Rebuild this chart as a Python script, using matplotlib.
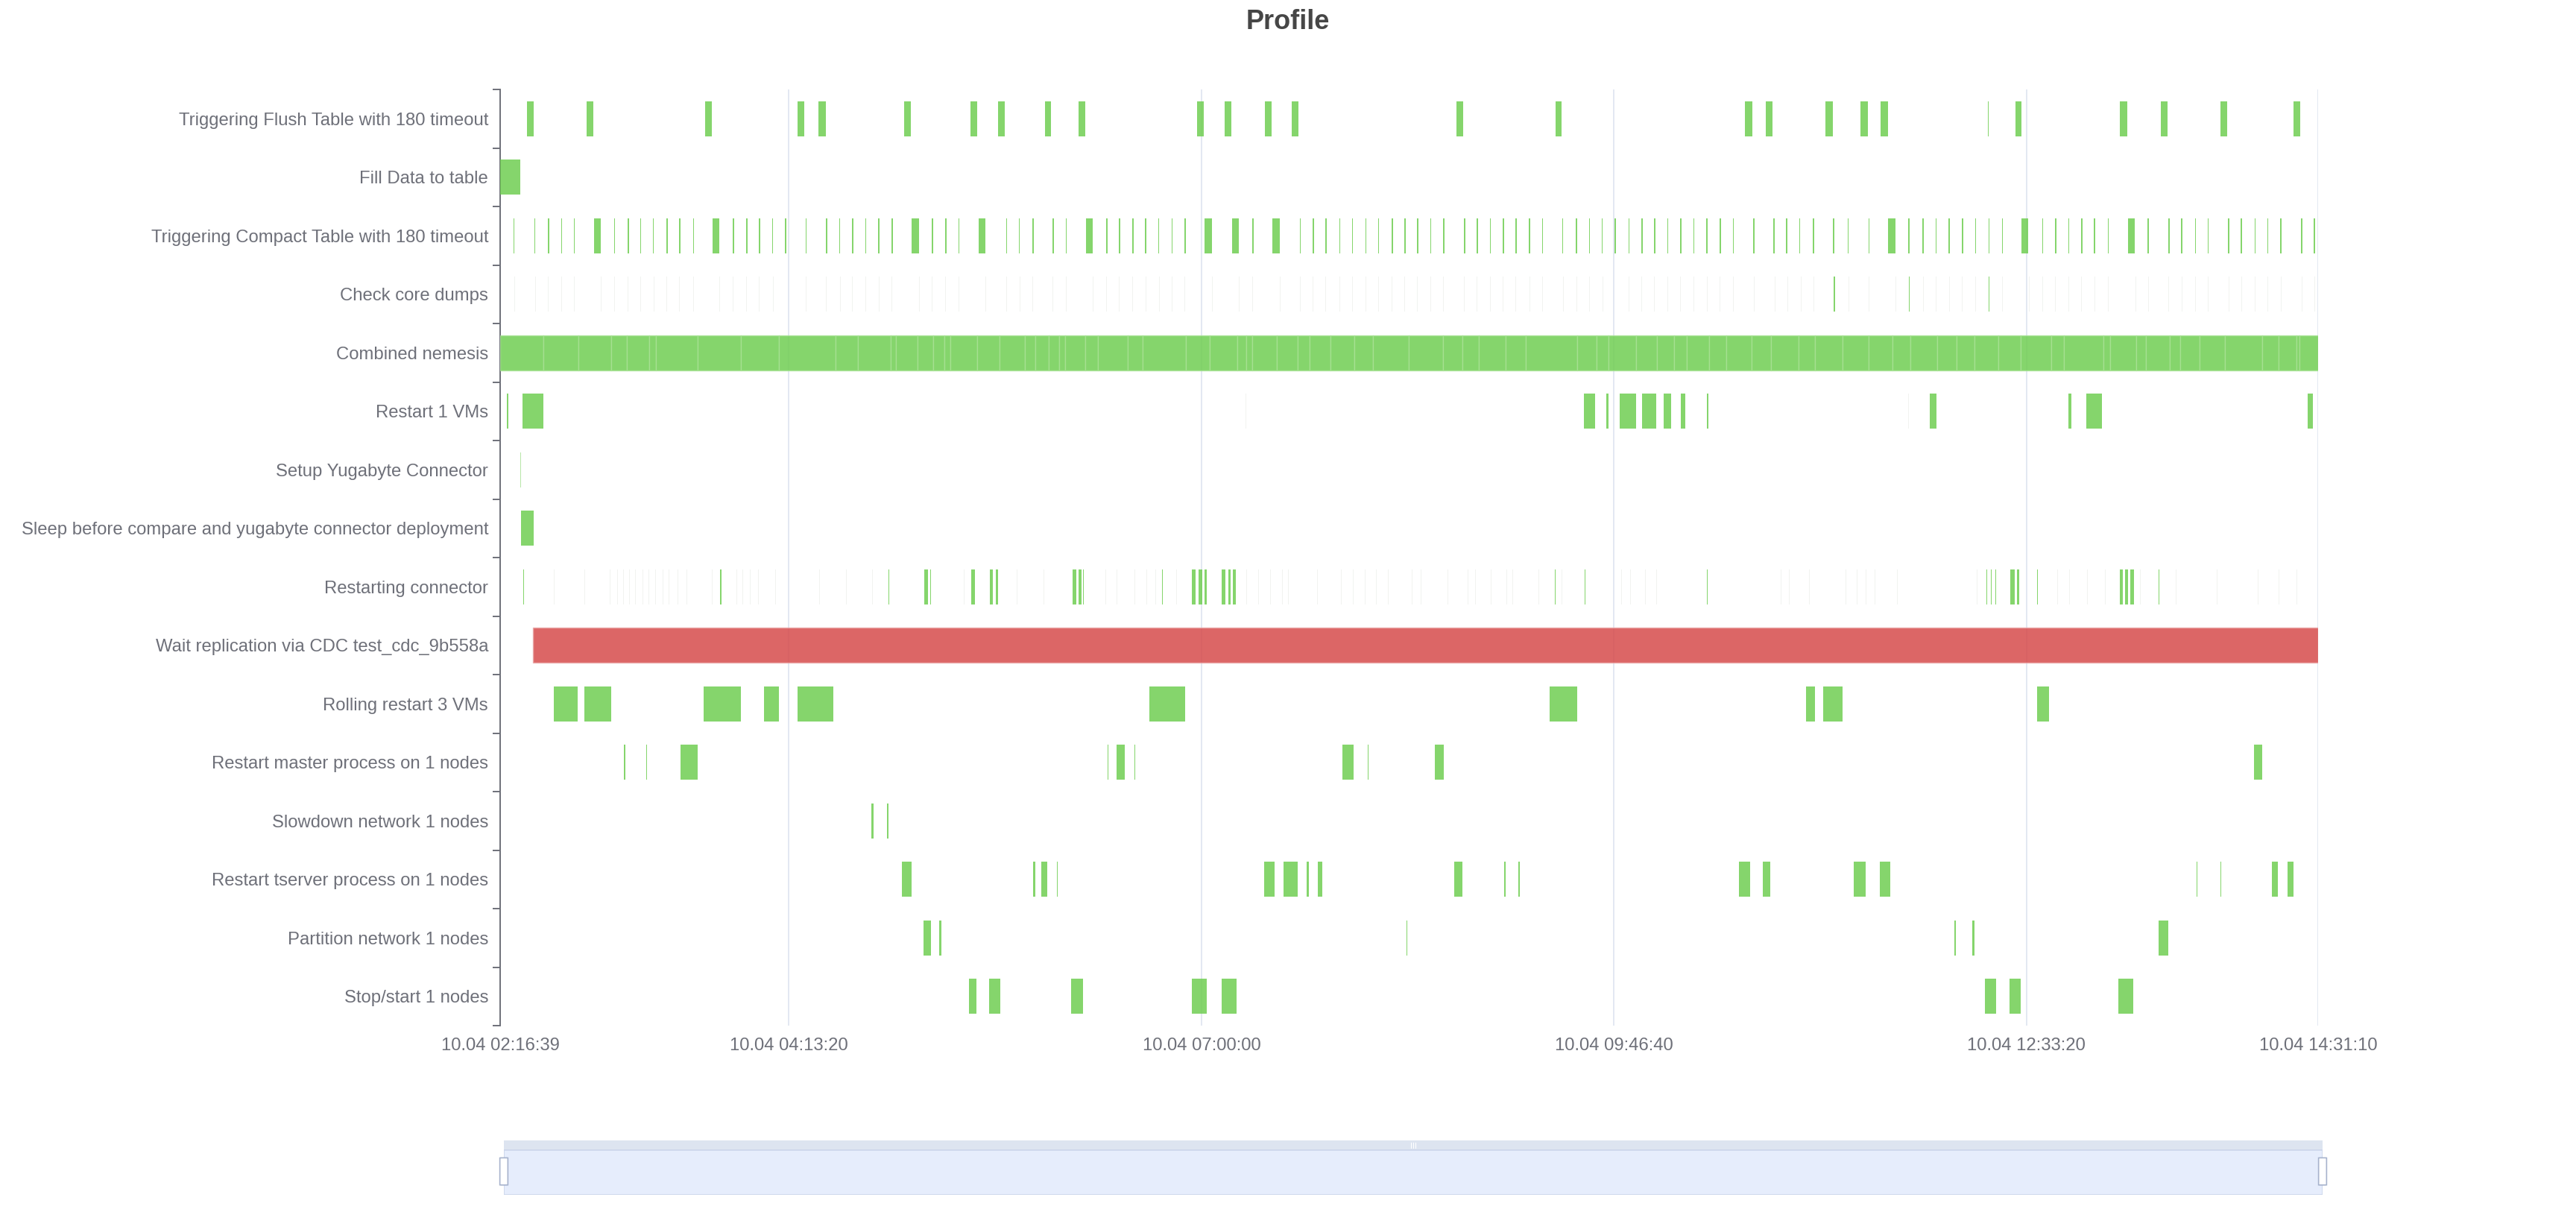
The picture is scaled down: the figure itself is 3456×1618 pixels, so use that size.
import datetime as dt
import matplotlib
matplotlib.use("Agg")
import matplotlib.pyplot as plt
import matplotlib.dates as mdates
from matplotlib.patches import Rectangle, FancyBboxPatch

plt.rcParams["font.family"] = ["Liberation Sans", "DejaVu Sans"]

# time range of the profile
t_start = dt.datetime(2024, 10, 4, 2, 16, 39)
t_end = dt.datetime(2024, 10, 4, 14, 31, 10)
tick_times = ["02:16:39", "04:13:20", "07:00:00", "09:46:40", "12:33:20", "14:31:10"]

categories = [
    "Triggering Flush Table with 180 timeout",
    "Fill Data to table",
    "Triggering Compact Table with 180 timeout",
    "Check core dumps",
    "Combined nemesis",
    "Restart 1 VMs",
    "Setup Yugabyte Connector",
    "Sleep before compare and yugabyte connector deployment",
    "Restarting connector",
    "Wait replication via CDC test_cdc_9b558a",
    "Rolling restart 3 VMs",
    "Restart master process on 1 nodes",
    "Slowdown network 1 nodes",
    "Restart tserver process on 1 nodes",
    "Partition network 1 nodes",
    "Stop/start 1 nodes",
]

# (start, duration) in minutes after 02:16:39
flush_table = [(10.7, 2.9), (35.0, 2.7), (82.9, 2.6), (120.3, 2.6), (128.6, 2.9), (163.2, 2.8),
               (190.1, 2.6), (201.3, 2.6), (220.1, 2.6), (233.7, 2.6), (281.6, 2.8), (292.8, 2.6),
               (309.0, 2.8), (319.9, 2.7), (386.3, 2.8), (426.3, 2.6), (503.0, 2.8), (511.5, 2.7),
               (535.6, 2.9), (549.7, 2.8), (557.8, 2.8), (601.1, 0.3), (612.1, 2.6), (654.5, 2.8),
               (670.9, 2.9), (695.2, 2.6), (724.5, 2.9)]

fill_data = [(0.0, 8.1)]

compact_long = [(37.9, 2.9), (85.8, 2.8), (166.3, 2.8), (193.2, 2.9), (236.6, 2.8), (284.7, 2.8),
                (295.6, 2.9), (312.1, 2.8), (560.9, 2.8), (614.7, 2.8), (657.6, 2.8)]
compact_short = [5.3, 13.8, 19.3, 24.6, 29.8, 46.0, 51.5, 56.5, 61.7, 67.2, 72.4, 77.9, 94.1, 99.4,
                 104.6, 109.8, 115.1, 123.4, 131.7, 137.0, 142.2, 147.5, 152.7, 158.2, 174.4, 179.9,
                 185.1, 204.4, 209.6, 215.1, 223.2, 228.5, 244.9, 250.1, 255.4, 260.6, 265.9, 271.3,
                 276.6, 303.9, 323.0, 328.3, 333.5, 339.0, 344.2, 349.5, 354.7, 360.2, 365.4, 370.5,
                 375.8, 381.0, 389.4, 394.6, 399.8, 405.1, 410.3, 415.6, 421.0, 429.1, 434.6, 439.9,
                 445.1, 450.3, 455.8, 461.1, 466.3, 471.5, 476.8, 482.0, 487.3, 492.7, 498.0, 506.3,
                 514.4, 519.6, 524.9, 530.4, 538.5, 544.4, 552.8, 569.0, 574.7, 579.9, 585.2, 590.6,
                 595.9, 601.4, 606.8, 623.0, 628.3, 633.5, 638.8, 644.0, 649.5, 665.7, 674.0, 679.2,
                 684.7, 689.9, 698.1, 703.3, 708.8, 714.0, 719.3, 727.6, 732.8]
compact_short_len = 0.45

core_dumps = [(538.9, 0.4), (569.2, 0.4), (601.4, 0.3)]
core_dumps_faint = [5.7, 14.1, 19.3, 24.6, 29.8, 40.8, 46.0, 51.5, 56.7, 62.0, 67.2, 72.4, 77.9, 88.6,
                    94.1, 99.4, 104.6, 110.1, 123.6, 131.7, 137.2, 142.2, 147.5, 152.9, 158.2, 169.1,
                    174.4, 179.9, 185.1, 196.1, 204.4, 209.9, 215.1, 223.2, 228.5, 239.4, 244.9, 250.1,
                    255.4, 260.9, 266.1, 271.3, 276.6, 287.5, 298.5, 303.9, 314.9, 323.0, 328.3, 333.5,
                    339.0, 344.2, 349.5, 354.9, 360.2, 365.4, 370.5, 375.8, 381.0, 389.4, 394.6, 399.8,
                    405.1, 410.3, 415.8, 421.0, 429.4, 434.9, 440.1, 445.3, 455.8, 461.1, 466.3, 471.5,
                    476.8, 482.0, 487.5, 492.7, 498.2, 506.5, 514.9, 520.1, 525.4, 530.6, 544.7, 552.8,
                    563.7, 574.9, 580.1, 585.4, 590.6, 595.9, 606.8, 617.8, 623.0, 628.3, 633.5, 638.8,
                    644.2, 649.5, 660.7, 665.9, 674.0, 679.5, 684.7, 689.9, 698.3, 703.5, 708.8, 714.0,
                    719.5, 727.8, 733.1]

nemesis_starts = [0.0, 17.6, 31.7, 45.0, 51.2, 60.3, 62.9, 79.8, 97.4, 112.7, 135.6, 144.6, 157.7,
                  159.9, 168.7, 174.9, 179.4, 182.0, 192.7, 201.8, 212.0, 216.3, 221.5, 225.8, 228.2,
                  236.3, 241.6, 253.5, 259.7, 277.1, 286.6, 297.8, 301.4, 304.0, 313.7, 322.3, 327.1,
                  335.4, 345.2, 352.6, 367.1, 381.0, 388.9, 395.3, 406.3, 414.4, 435.1, 443.0, 447.7,
                  459.1, 467.5, 474.2, 479.4, 488.4, 495.4, 505.6, 513.5, 524.7, 531.3, 542.3, 552.8,
                  562.5, 569.9, 580.6, 588.5, 595.6, 605.4, 614.5, 626.6, 631.8, 647.8, 650.6, 660.9,
                  664.9, 674.7, 678.8, 686.6, 696.9, 711.9, 718.5, 725.7, 726.9]
nemesis_end = 734.5

restart_vms = [(2.6, 0.8), (9.1, 8.5), (437.9, 4.6), (446.8, 0.9), (452.2, 6.9), (461.5, 5.5),
               (470.1, 3.1), (477.0, 1.9), (487.7, 0.4), (577.5, 2.9), (633.7, 1.2), (640.9, 6.2),
               (730.2, 2.2)]
restart_vms_faint = [301.1, 569.0]

setup_connector = [(8.1, 0.2)]

sleep_before_compare = [(8.4, 5.2)]

restarting_connector = [(9.3, 0.3), (88.9, 0.4), (156.8, 0.3), (171.3, 1.7), (173.7, 0.3), (190.3, 1.5),
                        (198.0, 1.2), (200.4, 0.9), (231.3, 1.4), (233.7, 1.2), (235.5, 0.3),
                        (267.3, 0.3), (279.4, 1.5), (282.1, 1.6), (284.7, 0.9), (291.6, 1.4),
                        (294.2, 0.9), (296.1, 1.0), (426.0, 0.3), (438.2, 0.2), (452.5, 0.2),
                        (487.7, 0.3), (600.6, 0.3), (602.3, 0.2), (604.2, 0.3), (610.2, 1.6),
                        (612.8, 0.9), (621.1, 0.3), (654.5, 1.2), (656.6, 1.0), (658.5, 1.5),
                        (670.2, 0.3)]
restarting_connector_faint = [21.7, 34.1, 44.3, 47.2, 49.6, 52.0, 54.6, 57.4, 59.8, 62.7, 65.8, 68.1,
                              71.7, 75.3, 85.5, 95.5, 97.9, 101.0, 104.3, 111.0, 128.9, 139.6, 150.3,
                              187.3, 208.7, 219.4, 244.4, 249.2, 256.3, 261.1, 264.7, 273.0, 301.6,
                              306.4, 311.2, 315.9, 318.3, 330.2, 339.7, 344.5, 349.2, 354.0, 358.8,
                              368.4, 372.0, 382.7, 391.0, 393.9, 400.1, 406.5, 408.9, 419.6, 428.7,
                              453.0, 456.5, 462.5, 467.2, 517.3, 520.8, 528.7, 543.5, 548.2, 551.8,
                              555.4, 564.4, 596.6, 629.2, 633.9, 641.1, 648.3, 662.6, 676.9, 693.5,
                              710.2, 718.5, 725.7]

wait_replication = [(13.4, 721.1)]

rolling_restart = [(21.7, 9.5), (34.1, 10.7), (82.2, 15.2), (106.7, 5.8), (120.1, 14.5), (262.3, 14.5),
                   (424.1, 11.0), (527.7, 3.4), (534.4, 8.1), (620.9, 5.0)]

restart_master = [(50.0, 0.5), (59.1, 0.3), (72.9, 6.9), (245.4, 0.2), (249.2, 3.3), (256.3, 0.3),
                  (340.4, 4.3), (350.4, 0.5), (377.7, 3.6), (708.5, 3.4)]

slowdown_network = [(150.1, 0.7), (156.3, 0.7)]

restart_tserver = [(162.2, 3.9), (215.4, 0.7), (218.7, 2.4), (224.9, 0.3), (308.7, 4.1), (316.4, 5.9),
                   (325.7, 1.1), (330.4, 1.9), (385.5, 3.4), (405.8, 0.4), (411.5, 0.4), (500.4, 4.5),
                   (510.1, 3.1), (546.8, 4.8), (557.3, 4.3), (685.4, 0.3), (695.2, 0.3), (715.7, 2.6),
                   (722.1, 2.6)]

partition_network = [(171.0, 3.1), (177.5, 0.9), (366.1, 0.3), (587.5, 0.8), (594.7, 0.9), (670.2, 3.8)]

stop_start = [(189.4, 3.1), (197.5, 4.5), (230.6, 5.0), (279.4, 6.2), (291.6, 5.9), (599.9, 4.5),
              (609.9, 4.6), (653.8, 5.9)]

faint_len = 0.3

GREEN = "#70ce52"
RED = "#d64b4b"
FAINT = "#f1f3f0"

fig = plt.figure(figsize=(34.56, 16.18), dpi=100)
ax = fig.add_axes([671 / 3456, 1 - 1376 / 1618, (3110 - 671) / 3456, (1376 - 120) / 1618])

t0 = mdates.date2num(t_start)


def draw(row, spans, color, alpha=0.85, edge="none", lw=0):
    lefts = [t0 + s / 1440 for s, d in spans]
    widths = [d / 1440 for s, d in spans]
    ax.barh([row] * len(spans), widths, left=lefts, height=0.6, color=color, alpha=alpha,
            edgecolor=edge, linewidth=lw, zorder=3)


draw(0, flush_table, GREEN)
draw(1, fill_data, GREEN)
draw(2, compact_long, GREEN)
draw(2, [(s, compact_short_len) for s in compact_short], GREEN)
draw(3, [(s, faint_len) for s in core_dumps_faint], FAINT, alpha=1)
draw(3, core_dumps, GREEN)
nem = [(s, e - s) for s, e in zip(nemesis_starts, nemesis_starts[1:] + [nemesis_end])]
draw(4, nem, GREEN, edge="#a9e296", lw=1.0)
draw(5, [(s, faint_len) for s in restart_vms_faint], FAINT, alpha=1)
draw(5, restart_vms, GREEN)
draw(6, setup_connector, GREEN, alpha=0.5)
draw(7, sleep_before_compare, GREEN)
draw(8, [(s, faint_len) for s in restarting_connector_faint], FAINT, alpha=1)
draw(8, restarting_connector, GREEN)
draw(9, wait_replication, RED, edge="#eaa9a9", lw=1.0)
draw(10, rolling_restart, GREEN)
draw(11, restart_master, GREEN)
draw(12, slowdown_network, GREEN)
draw(13, restart_tserver, GREEN)
draw(14, partition_network, GREEN)
draw(15, stop_start, GREEN)

# axes
ax.set_xlim(mdates.date2num(t_start), mdates.date2num(t_end))
ax.set_ylim(len(categories) - 0.5, -0.5)

ticks = [mdates.date2num(dt.datetime.strptime("2024-10-04 " + t, "%Y-%m-%d %H:%M:%S")) for t in tick_times]
ax.set_xticks(ticks)
ax.set_xticklabels(["10.04 " + t for t in tick_times])
ax.tick_params(axis="x", length=0, pad=11.5, labelsize=17.2, labelcolor="#6E7079")
ax.grid(axis="x", color="#E0E6F1", linewidth=1.3, zorder=0)
ax.set_axisbelow(True)

ax.set_yticks(range(len(categories)))
ax.set_yticklabels(categories)
ax.set_yticks([i - 0.5 for i in range(len(categories) + 1)], minor=True)
ax.tick_params(axis="y", which="major", length=0, pad=11.5, labelsize=17.2, labelcolor="#6E7079")
ax.tick_params(axis="y", which="minor", length=7, width=1.4, color="#6E7079")

for side in ["top", "right", "bottom"]:
    ax.spines[side].set_visible(False)
ax.spines["left"].set_color("#6E7079")
ax.spines["left"].set_linewidth(1.4)

fig.text(0.5, 1 - 39 / 1618, "Profile", ha="center", va="baseline", fontsize=26,
         fontweight="bold", color="#464646")

# data zoom slider under the chart
sl = fig.add_axes([676 / 3456, 1 - 1603 / 1618, (3116 - 676) / 3456, (1603 - 1530) / 1618])
sl.set_xlim(0, 1)
sl.set_ylim(0, 1)
sl.axis("off")
sl.add_patch(Rectangle((0, 0.82), 1, 0.18, facecolor="#dde4f0", edgecolor="none"))
sl.add_patch(Rectangle((0, 0.0), 1, 0.82, facecolor="#e6edfc", edgecolor="#cbd5ea", linewidth=1.2))
for hx in [0, 1]:
    sl.add_patch(FancyBboxPatch((hx - 0.0022, 0.18), 0.0044, 0.5,
                                boxstyle="round,pad=0,rounding_size=0.002",
                                facecolor="white", edgecolor="#a7b3cd", linewidth=1.2,
                                clip_on=False))
for gx in [-0.0012, 0, 0.0012]:
    sl.plot([0.5 + gx, 0.5 + gx], [0.86, 0.96], color="white", linewidth=0.8)

fig.savefig("out.png", dpi=100, facecolor="white")
